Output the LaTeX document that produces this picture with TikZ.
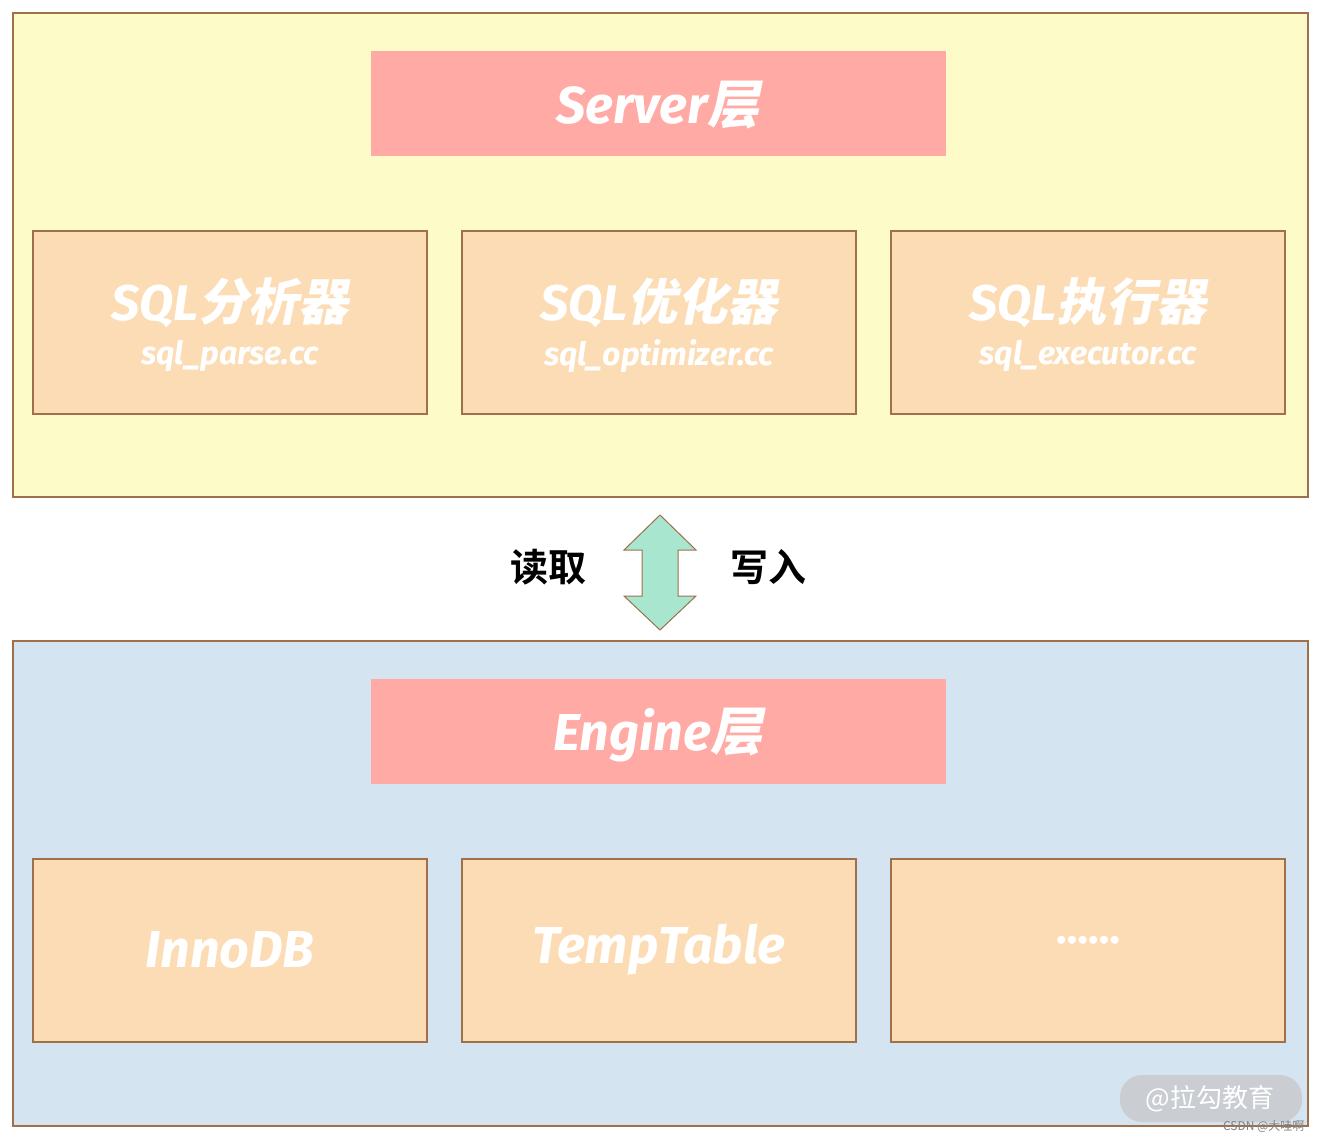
\documentclass[tikz,border=0pt]{standalone}
\usepackage{fontspec}
\setmainfont{Fira Sans}
\newfontfamily\cjk{Noto Sans CJK SC}[BoldFont=* Bold]
\newfontfamily\cjks{Noto Sans CJK SC}[BoldFont=* Bold,FakeSlant=0.2]
\definecolor{brd}{HTML}{A0704A}
\definecolor{ylw}{HTML}{FDFBC8}
\definecolor{blu}{HTML}{D5E4F1}
\definecolor{pnk}{HTML}{FFAAA5}
\definecolor{org}{HTML}{FCDCB4}
\definecolor{grn}{HTML}{A8E6CF}
\tikzset{
 panel/.style={draw=brd,line width=1.2pt},
 head/.style={fill=pnk,draw=none},
 box/.style={fill=org,draw=brd,line width=1.2pt},
 wt/.style={text=white,font=\bfseries\itshape},
}
\begin{document}
\begin{tikzpicture}[x=1pt,y=-1pt]
\useasboundingbox (0,0) rectangle (1322,1142);
\fill[white] (0,0) rectangle (1322,1142);
% server
\draw[panel,fill=ylw] (13,13) rectangle (1308,497);
\fill[head] (371,51) rectangle (946,156);
\node[wt,font=\fontsize{52}{52}\bfseries\itshape] (srv) at (658,105) {Server{\cjks 层}};
\foreach \x/\n/\a/\b in {33/p/分析器/sql\_parse.cc,462/o/优化器/sql\_optimizer.cc,891/e/执行器/sql\_executor.cc}{
 \draw[box] (\x,231) rectangle ++(394,183);
 \node[wt,font=\fontsize{50}{50}\bfseries\itshape] (t\n) at (\x+197,303) {SQL{\cjks\bfseries \a}};
 \node[wt,font=\fontsize{32}{32}\bfseries\itshape] (s\n) at (\x+197,356) {\b};
}
% arrow
\draw[fill=grn,draw=brd,line width=1pt] (660,515) -- (696,550) -- (678,550) -- (678,596) -- (696,596)
  -- (660,630) -- (624,596) -- (642,596) -- (642,550) -- (624,550) -- cycle;
\node[font=\cjk\bfseries\fontsize{38}{38}\selectfont] (rd) at (548,567) {读取};
\node[font=\cjk\bfseries\fontsize{38}{38}\selectfont] (wr) at (768,567) {写入};
% engine
\draw[panel,fill=blu] (13,641) rectangle (1308,1126);
\fill[head] (371,679) rectangle (946,784);
\node[wt,font=\fontsize{52}{52}\bfseries\itshape] (eng) at (658,735) {Engine{\cjks 层}};
\draw[box] (33,859) rectangle ++(394,183);
\draw[box] (462,859) rectangle ++(394,183);
\draw[box] (891,859) rectangle ++(394,183);
\node[wt,font=\fontsize{52}{52}\bfseries\itshape] (inn) at (230,950) {InnoDB};
\node[wt,font=\fontsize{52}{52}\bfseries\itshape] (tmp) at (659,950) {TempTable};
\node[wt,font=\fontsize{44}{44}\bfseries] (dots) at (1088,940) {……};
% watermark
\fill[gray!45,opacity=0.7,rounded corners=22pt] (1120,1075) rectangle (1302,1122);
\node[text=white,font=\cjk\fontsize{26}{26}\selectfont] (wm) at (1210,1099) {@拉勾教育};
\node[text=gray,font=\cjk\fontsize{12}{12}\selectfont,anchor=east] (wm2) at (1308,1126) {CSDN @大哇啊};
\end{tikzpicture}
\end{document}
